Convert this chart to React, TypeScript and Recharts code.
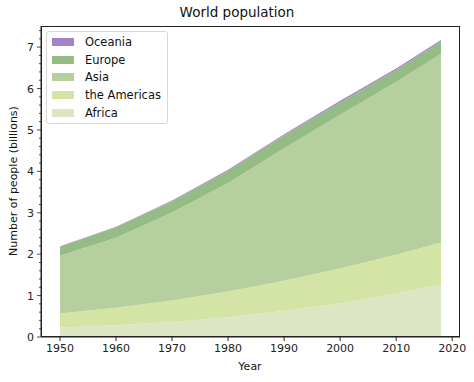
import React from 'react';
import { AreaChart, Area, XAxis, YAxis } from 'recharts';

// population by continent, billions
const years = [1950, 1960, 1970, 1980, 1990, 2000, 2010, 2018];
const africa = [0.228, 0.284, 0.365, 0.477, 0.631, 0.814, 1.044, 1.275];
const americas = [0.34, 0.425, 0.519, 0.619, 0.727, 0.84, 0.943, 1.006];
const asia = [1.394, 1.686, 2.12, 2.625, 3.202, 3.714, 4.169, 4.56];
const europe = [0.22, 0.253, 0.276, 0.295, 0.31, 0.303, 0.294, 0.293];
const oceania = [0.012, 0.015, 0.019, 0.022, 0.026, 0.031, 0.036, 0.039];

const seriesKeys = ['africa', 'americas', 'asia', 'europe', 'oceania'];
const seriesNames = ['Africa', 'the Americas', 'Asia', 'Europe', 'Oceania'];
const seriesColors = ['#dde6c4', '#d4e4a4', '#b6cf9f', '#94bc84', '#a481c8'];

const xTicks = [1950, 1960, 1970, 1980, 1990, 2000, 2010, 2020];
const yTicks = [0, 0.2, 0.4, 0.6, 0.8, 1, 1.2, 1.4, 1.6, 1.8, 2, 2.2, 2.4, 2.6, 2.8, 3, 3.2, 3.4, 3.6, 3.8, 4, 4.2, 4.4, 4.6, 4.8, 5, 5.2, 5.4, 5.6, 5.8, 6, 6.2, 6.4, 6.6, 6.8, 7, 7.2, 7.4];

const data = years.map((year, i) => ({
  year,
  africa: africa[i],
  americas: americas[i],
  asia: asia[i],
  europe: europe[i],
  oceania: oceania[i],
}));

const FONT = '"DejaVu Sans", sans-serif';
const PLOT_LEFT = 41;

const YTick = (props: any) => {
  const { y, payload } = props;
  const v = payload.value;
  const major = Math.abs(v - Math.round(v)) < 1e-6;
  return (
    <g>
      <line x1={PLOT_LEFT - (major ? 4 : 2)} x2={PLOT_LEFT} y1={y} y2={y} stroke="#222" strokeWidth={0.8} />
      {major && (
        <text x={PLOT_LEFT - 7} y={y} dy={4} textAnchor="end" fontSize={11} fill="#222" fontFamily={FONT}>
          {Math.round(v)}
        </text>
      )}
    </g>
  );
};

export default function App() {
  return (
    <div style={{ position: 'absolute', left: 0, top: 0, width: 474, height: 382, background: '#fff', fontFamily: FONT }}>
      <AreaChart width={474} height={382} data={data} margin={{ top: 26, right: 14, bottom: 0, left: 0 }}>
        <XAxis
          dataKey="year"
          type="number"
          domain={[1946.6, 2021.4]}
          ticks={xTicks}
          height={45}
          tickSize={4}
          tickMargin={3}
          stroke="#222"
          tick={{ fill: '#222', fontSize: 11, fontFamily: FONT }}
          allowDataOverflow
        />
        <YAxis
          type="number"
          domain={[0, 7.51]}
          ticks={yTicks}
          width={41}
          tickLine={false}
          stroke="#222"
          tick={<YTick />}
          interval={0}
          allowDataOverflow
        />
        {seriesKeys.map((k, i) => (
          <Area
            key={k}
            dataKey={k}
            name={seriesNames[i]}
            stackId="pop"
            type="linear"
            fill={seriesColors[i]}
            fillOpacity={1}
            stroke="none"
            isAnimationActive={false}
          />
        ))}
      </AreaChart>
      {/* frame around the plot area */}
      <div
        style={{
          position: 'absolute',
          left: 41,
          top: 26,
          width: 419,
          height: 311,
          border: '1px solid #222',
          boxSizing: 'border-box',
          pointerEvents: 'none',
        }}
      />
      <div style={{ position: 'absolute', left: 0, top: 4, width: 474, textAlign: 'center', fontSize: 13.5, color: '#111' }}>
        World population
      </div>
      <div style={{ position: 'absolute', left: 250, top: 360, transform: 'translateX(-50%)', fontSize: 11, color: '#111' }}>
        Year
      </div>
      <div
        style={{
          position: 'absolute',
          left: 13,
          top: 181,
          transform: 'translate(-50%, -50%) rotate(-90deg)',
          whiteSpace: 'nowrap',
          fontSize: 11,
          color: '#111',
        }}
      >
        Number of people (billions)
      </div>
      <div
        style={{
          position: 'absolute',
          left: 46,
          top: 31,
          width: 120,
          padding: '1px 0 2px 0',
          border: '1px solid #d6d6d6',
          borderRadius: 3,
          background: 'rgba(255,255,255,0.85)',
          fontSize: 11.5,
          color: '#111',
        }}
      >
        {seriesNames
          .map((n, i) => ({ n, c: seriesColors[i] }))
          .reverse()
          .map((s) => (
            <div key={s.n} style={{ display: 'flex', alignItems: 'center', height: 17.7 }}>
              <span style={{ display: 'inline-block', width: 22, height: 8, background: s.c, marginLeft: 5, marginRight: 11 }} />
              <span>{s.n}</span>
            </div>
          ))}
      </div>
    </div>
  );
}
